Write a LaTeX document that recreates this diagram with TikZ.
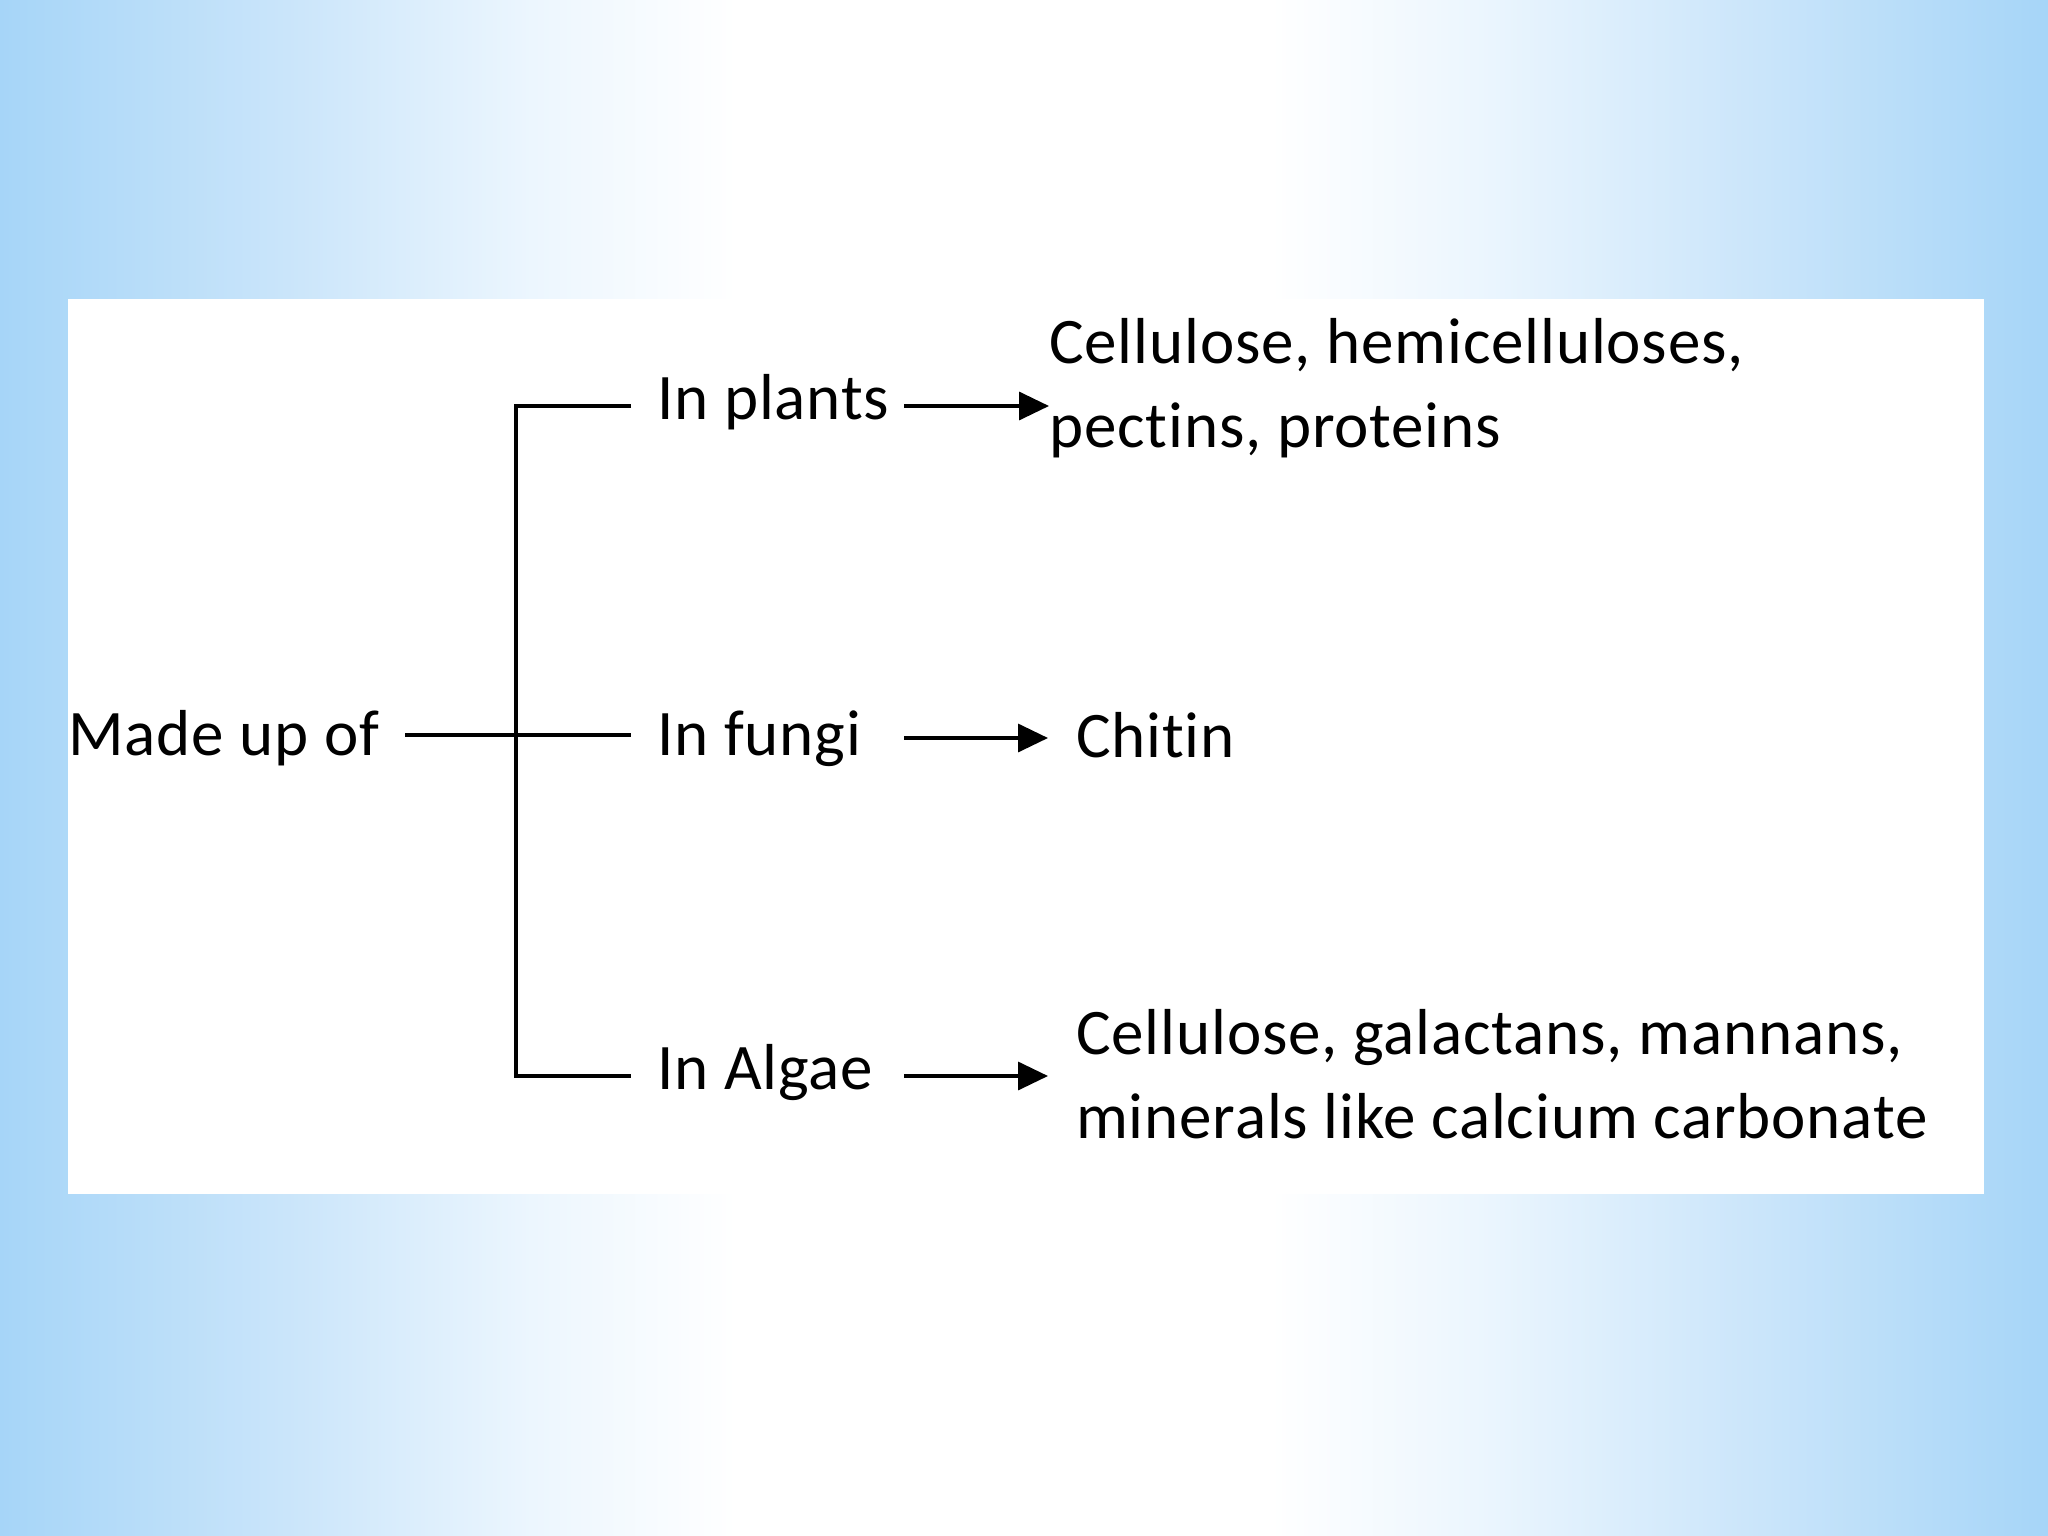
\documentclass[tikz,border=0pt]{standalone}
\usepackage{fontspec}
\setmainfont{Carlito}[Ligatures={NoCommon,NoRequired,NoContextual},RawFeature={-liga;-clig;-dlig},LetterSpace=1.3]
\usetikzlibrary{arrows.meta}
\definecolor{bgblue}{RGB}{166,213,248}
\definecolor{bgmid}{RGB}{202,229,250}
\definecolor{bglight}{RGB}{236,246,254}
\pgfdeclarehorizontalshading{bgshade}{100bp}{color(0bp)=(bgblue); color(25bp)=(bgblue); color(32bp)=(bgmid); color(38bp)=(bglight); color(43bp)=(white); color(56bp)=(white); color(61bp)=(bglight); color(68bp)=(bgmid); color(75bp)=(bgblue); color(100bp)=(bgblue)}
\tikzset{
  lbl/.style={inner sep=0pt, anchor=base west, font=\fontsize{65}{84}\selectfont},
  conn/.style={line width=3.5pt, black},
  arr/.style={line width=3.5pt, black, -{Triangle[length=30pt,width=28pt]}}
}
\begin{document}
\begin{tikzpicture}[x=1pt,y=-1pt]
\useasboundingbox (0,0) rectangle (2048,1536);
\shade[shading=bgshade] (0,0) rectangle (2048,1536);
\fill[white] (68,299) rectangle (1984,1194);

\node[lbl] (made) at (68,755) {Made up of};
\node[lbl] (plants) at (657,419) {In plants};
\node[lbl] (fungi) at (657,755) {In fungi};
\node[lbl] (algae) at (657,1089) {In Algae};
\node[lbl] (pp) at (1049,363) {\begin{tabular}[t]{@{}l@{}}Cellulose, hemicelluloses,\\pectins, proteins\end{tabular}};
\node[lbl] (chitin) at (1076,757) {Chitin};
\node[lbl] (alg) at (1076,1054) {\begin{tabular}[t]{@{}l@{}}Cellulose, galactans, mannans,\\minerals like calcium carbonate\end{tabular}};

\coordinate (m0) at (405,735);
\coordinate (jt) at (516,406);
\coordinate (jb) at (516,1076);
\coordinate (e1) at (631,406);
\coordinate (e2) at (631,735);
\coordinate (e3) at (631,1076);
\coordinate (s1) at (904,406);
\coordinate (s2) at (904,738);
\coordinate (s3) at (904,1076);

\draw[conn] (m0) -- (e2);
\draw[conn] (e1) -- (jt) -- (jb) -- (e3);
\draw[arr] (s1) -- (s1 -| pp.west);
\draw[arr] (s2) -- ([xshift=-28pt]s2 -| chitin.west);
\draw[arr] (s3) -- ([xshift=-28pt]s3 -| alg.west);
\end{tikzpicture}
\end{document}
